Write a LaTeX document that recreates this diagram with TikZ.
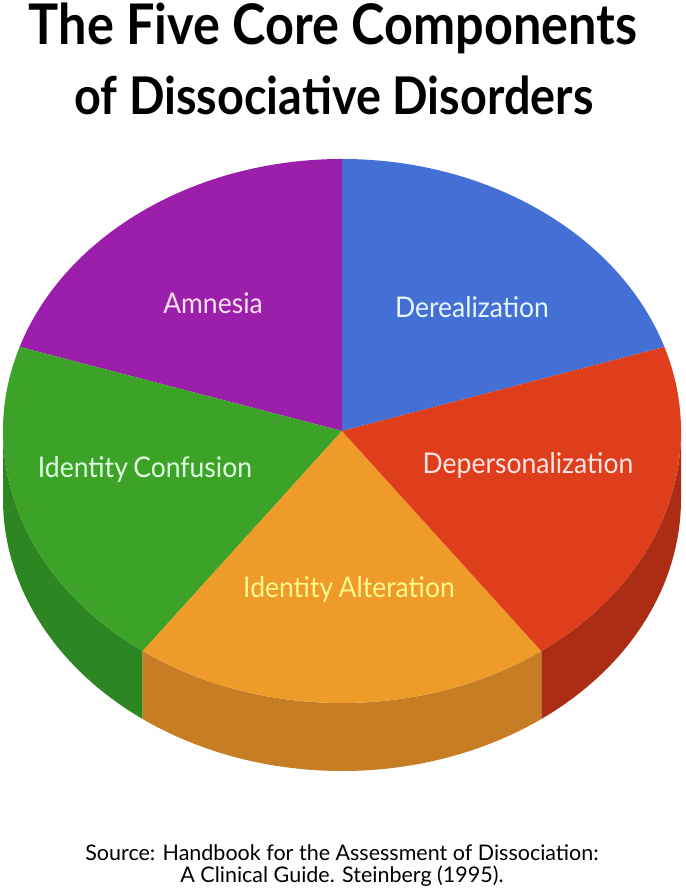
\documentclass[tikz,border=0pt]{standalone}
\usepackage{fontspec}
\newfontfamily\headfont{Lato}[FakeStretch=0.9]
\newfontfamily\slicefont{Lato}
\newfontfamily\piefont{Lato}[FakeStretch=0.93,WordSpace=0.8]
\usetikzlibrary{calc}
\definecolor{derealblue}{RGB}{68,112,214}
\definecolor{amnesiapurple}{RGB}{155,31,171}
\definecolor{confgreen}{RGB}{60,163,40}
\definecolor{altorange}{RGB}{238,155,42}
\definecolor{depersred}{RGB}{222,62,27}
\definecolor{confgreenside}{RGB}{46,134,34}
\definecolor{altorangeside}{RGB}{198,125,36}
\definecolor{depersredside}{RGB}{172,45,22}

\begin{document}
\begin{tikzpicture}[x=1pt,y=1pt,
    slicelabel/.style={anchor=base,font=\piefont\fontsize{28.5}{32}\selectfont}]
  \useasboundingbox (0,0) rectangle (685,893);
  \node[anchor=base,font=\headfont\bfseries\fontsize{56}{64}\selectfont] (title1) at (333,848) {The Five Core Components};
  \node[anchor=base,font=\headfont\bfseries\fontsize{52}{60}\selectfont] (title2) at (334,778) {of Dissociative Disorders};
  \coordinate (ctr) at (342,462);
  \foreach \a/\b/\c in {180/234/confgreenside,234/306/altorangeside,306/360/depersredside}
    \fill[\c] (ctr) ++(\a:339 and 272) arc[start angle=\a,end angle=\b,x radius=339,y radius=272]
      -- ++(0,-68) arc[start angle=\b,end angle=\a,x radius=339,y radius=272] -- cycle;
  \foreach \a/\c in {18/derealblue,90/amnesiapurple,162/confgreen,234/altorange,306/depersred}
    \fill[\c] (ctr) -- ++(\a:339 and 272) arc[start angle=\a,end angle=\a+72,x radius=339,y radius=272] -- cycle;
  \node[slicelabel,text=magenta!12] (amnesia) at (213,579) {Amnesia};
  \node[slicelabel,text=cyan!10] (dereal) at (472,575) {Derealization};
  \node[slicelabel,text=green!12] (confusion) at (145,415) {Identity Confusion};
  \node[slicelabel,text=red!10] (depers) at (528,419) {Depersonalization};
  \node[slicelabel,text=yellow!45] (alteration) at (349,295) {Identity Alteration};
  \node[anchor=base,font=\slicefont\fontsize{21.5}{24}\selectfont] (src1) at (342,32) {Source: Handbook for the Assessment of Dissociation:};
  \node[anchor=base,font=\slicefont\fontsize{21.5}{24}\selectfont] (src2) at (342,10) {A Clinical Guide. Steinberg (1995).};
\end{tikzpicture}
\end{document}
